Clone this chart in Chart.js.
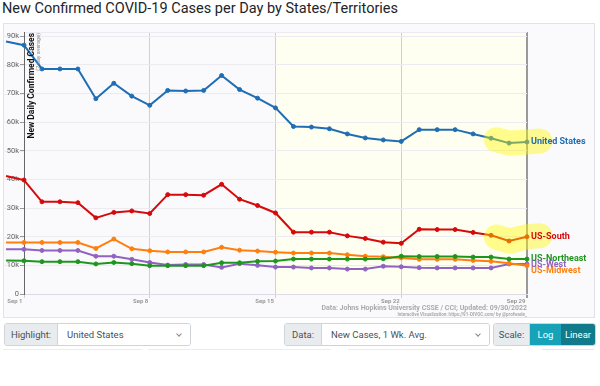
<!DOCTYPE html>
<html>
<head>
<meta charset="utf-8">
<script src="https://cdn.jsdelivr.net/npm/chart.js@4.4.1/dist/chart.umd.min.js"></script>
<style>
  body { margin: 0; width: 600px; height: 386px; background: #fff; font-family: Roboto, sans-serif; position: relative; overflow: hidden; }
  #title { position: absolute; left: 2px; top: 0px; font-size: 14.5px; color: #212529; white-space: nowrap; }
  #box { position: absolute; left: 3px; top: 23px; width: 592px; height: 295px; box-sizing: border-box; border: 1px solid #e2e2e8; background: #fafafd; }
  #wrap { position: absolute; left: 3px; top: 23px; width: 592px; height: 295px; }
  .src { position: absolute; right: 73px; white-space: nowrap; color: #aaa; font-weight: bold; }
  #src1 { top: 304px; font-size: 7px; }
  #src2 { top: 312px; font-size: 4.5px; }
  .grp { position: absolute; top: 323px; height: 23px; display: flex; box-sizing: border-box; border: 1px solid #ced4da; border-radius: 3px; overflow: hidden; font-size: 9.5px; color: #495057; }
  .pre { background: #e9ecef; display: flex; align-items: center; justify-content: center; border-right: 1px solid #ced4da; }
  .sel { background: #fff; flex: 1; display: flex; align-items: center; padding-left: 9px; position: relative; }
  .sel::after { content: ""; position: absolute; right: 9px; top: 8px; width: 3px; height: 3px; border-right: 1px solid #888; border-bottom: 1px solid #888; transform: rotate(45deg); }
  .btn { display: flex; align-items: center; justify-content: center; color: #fff; }
  .faint { position: absolute; top: 349px; height: 4px; border-top: 1px solid #ececec; }
</style>
</head>
<body>
<div id="title">New Confirmed COVID-19 Cases per Day by States/Territories</div>
<div id="box"></div>
<div id="wrap"><canvas id="chart"></canvas></div>
<div class="src" id="src1">Data: Johns Hopkins University CSSE / CCI; Updated: 09/30/2022</div>
<div class="src" id="src2">Interactive Visualization: https://91-DIVOC.com/ by @profwade_</div>

<div class="grp" style="left:4px; width:187px;"><div class="pre" style="width:52px;">Highlight:</div><div class="sel">United States</div></div>
<div class="grp" style="left:284px; width:206px;"><div class="pre" style="width:36px;">Data:</div><div class="sel">New Cases, 1 Wk. Avg.</div></div>
<div class="grp" style="left:493px; width:103px;"><div class="pre" style="width:35px;">Scale:</div><div class="btn" style="width:31px; background:#17a2b8;">Log</div><div class="btn" style="flex:1; background:#117a8b;">Linear</div></div>
<div class="faint" style="left:3px; width:139px;"></div>
<div class="faint" style="left:148px; width:183px;"></div>
<div class="faint" style="left:348px; width:164px;"></div>
<div class="faint" style="left:542px; width:52px; border-color:#d6ebf2;"></div>

<script>
const days = ['Aug 31', 'Sep 1', 'Sep 2', 'Sep 3', 'Sep 4', 'Sep 5', 'Sep 6', 'Sep 7', 'Sep 8', 'Sep 9',
  'Sep 10', 'Sep 11', 'Sep 12', 'Sep 13', 'Sep 14', 'Sep 15', 'Sep 16', 'Sep 17', 'Sep 18', 'Sep 19',
  'Sep 20', 'Sep 21', 'Sep 22', 'Sep 23', 'Sep 24', 'Sep 25', 'Sep 26', 'Sep 27', 'Sep 28', 'Sep 29'];
const tickDays = [0, 7, 14, 21, 28];
const tickLabels = ['Sep 1', 'Sep 8', 'Sep 15', 'Sep 22', 'Sep 29'];
const yTickValues = [0, 10000, 20000, 30000, 40000, 50000, 60000, 70000, 80000, 90000];
const yTickLabels = ['0', '10k', '20k', '30k', '40k', '50k', '60k', '70k', '80k', '90k'];
const yMax = 91500;

const unitedStates = [88200, 86900, 78600, 78600, 78600, 68200, 73600, 69100, 65900, 71100,
  70900, 71100, 76300, 71400, 68400, 65000, 58500, 58300, 57700, 55900,
  54500, 53800, 53300, 57400, 57400, 57400, 55900, 54400, 52700, 53100];
const usSouth = [41200, 39800, 32200, 32200, 31900, 26600, 28500, 29000, 28100, 34700,
  34700, 34500, 38300, 33100, 30900, 28300, 21600, 21600, 21600, 20300,
  19400, 18100, 17700, 22600, 22500, 22500, 21500, 20500, 18500, 20000];
const usNortheast = [11700, 11600, 11300, 11300, 11300, 10500, 11000, 10600, 9900, 9900,
  9900, 9900, 10900, 10900, 11400, 11500, 12200, 12200, 12200, 12200,
  12200, 12300, 13200, 13100, 13100, 13100, 12900, 12900, 12200, 12200];
const usMidwest = [18000, 18000, 18000, 18000, 18000, 15900, 19200, 15800, 15100, 14700,
  14700, 14700, 16300, 15300, 15000, 14600, 14300, 14300, 14300, 13700,
  13200, 13000, 12600, 12100, 12100, 12100, 11700, 11400, 10700, 9900];
const usWest = [15600, 15600, 15200, 15200, 15200, 13200, 13200, 12100, 11000, 10100,
  10300, 10300, 9300, 10600, 10000, 9400, 9400, 9100, 9100, 8700,
  8700, 9700, 9500, 9200, 9100, 9100, 9100, 9100, 10500, 10500];

const highlighted = ['United States', 'US-South'];
const highlightFrom = days.indexOf('Sep 27');

const series = [
  { label: 'United States', values: unitedStates, color: '#1f6db3' },
  { label: 'US-South', values: usSouth, color: '#d60a0a' },
  { label: 'US-Northeast', values: usNortheast, color: '#1e961e' },
  { label: 'US-Midwest', values: usMidwest, color: '#ff7f0e' },
  { label: 'US-West', values: usWest, color: '#9063c0' },
];
// small nudges so the stacked end labels do not collide
const labelNudge = { 'US-West': 1, 'US-Midwest': 5 };

Chart.defaults.font.family = 'Roboto';

const backdrop = {
  id: 'backdrop',
  beforeDraw(chart) {
    const { ctx, chartArea, scales } = chart;
    const x0 = scales.x.getPixelForValue(14);
    const x1 = scales.x.getPixelForValue(28);
    ctx.save();
    ctx.fillStyle = '#fffff1';
    ctx.fillRect(x0, chartArea.top, x1 - x0, chartArea.bottom - chartArea.top);
    // faint gridline stubs to the left of the axis, behind the tick labels
    ctx.strokeStyle = '#ebebf1';
    ctx.lineWidth = 1;
    yTickValues.slice(1).forEach((v) => {
      const y = Math.round(scales.y.getPixelForValue(v)) + 0.5;
      ctx.beginPath();
      ctx.moveTo(0, y);
      ctx.lineTo(chartArea.left, y);
      ctx.stroke();
    });
    ctx.restore();
  },
};

const annotations = {
  id: 'annotations',
  afterDatasetsDraw(chart) {
    const { ctx, chartArea } = chart;
    ctx.save();

    // highlighter strokes
    chart.data.datasets.forEach((ds, i) => {
      if (!highlighted.includes(ds.label)) return;
      const pts = chart.getDatasetMeta(i).data;
      const a = pts[highlightFrom];
      const b = pts[highlightFrom + 1];
      const last = pts[pts.length - 1];
      ctx.beginPath();
      ctx.moveTo(a.x + (b.x - a.x) * 0.3, a.y + (b.y - a.y) * 0.3);
      for (let k = highlightFrom + 1; k < pts.length; k++) ctx.lineTo(pts[k].x, pts[k].y);
      ctx.lineTo(last.x + 13, last.y - 1);
      ctx.strokeStyle = 'rgba(255, 248, 0, 0.42)';
      ctx.lineWidth = 25;
      ctx.lineCap = 'round';
      ctx.lineJoin = 'round';
      ctx.stroke();
    });

    // end labels
    ctx.font = 'bold 9px Roboto';
    ctx.textAlign = 'left';
    ctx.textBaseline = 'middle';
    chart.data.datasets.forEach((ds, i) => {
      const pts = chart.getDatasetMeta(i).data;
      const last = pts[pts.length - 1];
      ctx.fillStyle = ds.borderColor;
      ctx.fillText(ds.label, last.x + 4, last.y + (labelNudge[ds.label] || 0));
    });

    // y axis title, sitting just right of the Sep 1 axis
    ctx.translate(chartArea.left + 8, chartArea.top + 1);
    ctx.rotate(-Math.PI / 2);
    ctx.textAlign = 'right';
    ctx.fillStyle = '#111';
    ctx.font = 'bold 8.5px Roboto';
    ctx.fillText('New Daily Confirmed Cases', 0, 0);
    ctx.fillStyle = '#888';
    ctx.font = '5.5px Roboto';
    ctx.fillText('(7-day average)', 0, 7);
    ctx.restore();
  },
};

new Chart(document.getElementById('chart'), {
  type: 'line',
  data: {
    datasets: series.map((s) => ({
      label: s.label,
      data: s.values.map((v, i) => ({ x: i - 1, y: v })),
      borderColor: s.color,
      backgroundColor: s.color,
      borderWidth: 2,
      pointRadius: 2,
      pointBorderWidth: 1,
      tension: 0,
      clip: false,
    })),
  },
  options: {
    responsive: true,
    maintainAspectRatio: false,
    animation: false,
    layout: { padding: { top: 9, right: 68, left: 0, bottom: 0 } },
    plugins: { legend: { display: false }, tooltip: { enabled: false } },
    scales: {
      x: {
        type: 'linear',
        min: 0,
        max: 28,
        afterBuildTicks(scale) {
          scale.ticks = tickDays.map((v) => ({ value: v }));
        },
        afterFit(scale) {
          scale.height = 24;
        },
        grid: {
          color: (ctx) => (ctx.tick && ctx.tick.value === 28 ? '#9a9a9a' : '#cfcfd4'),
          lineWidth: (ctx) => (ctx.tick && ctx.tick.value === 28 ? 2 : 1),
          tickLength: 4,
        },
        border: { color: '#ddd9e8' },
        ticks: {
          autoSkip: false,
          maxRotation: 0,
          align: 'end',
          padding: 0,
          color: '#999',
          font: { size: 6, weight: 'bold' },
          callback: (v) => {
            const k = tickDays.indexOf(v);
            return k >= 0 ? tickLabels[k] + ' ' : '';
          },
        },
      },
      y: {
        position: 'left',
        min: 0,
        max: yMax,
        afterBuildTicks(scale) {
          scale.ticks = yTickValues.concat([yMax]).map((v) => ({ value: v }));
        },
        afterFit(scale) {
          scale.width = 21;
        },
        grid: {
          color: '#ebebf1',
          tickLength: 4,
          tickColor: (ctx) => (ctx.tick && ctx.tick.value === yMax ? 'transparent' : '#999'),
        },
        border: { color: '#666' },
        ticks: {
          autoSkip: false,
          padding: 1,
          color: '#666',
          font: { size: 7.5 },
          callback: (v) => {
            const k = yTickValues.indexOf(v);
            return k >= 0 ? yTickLabels[k] : '';
          },
        },
      },
    },
  },
  plugins: [backdrop, annotations],
});
</script>
</body>
</html>
